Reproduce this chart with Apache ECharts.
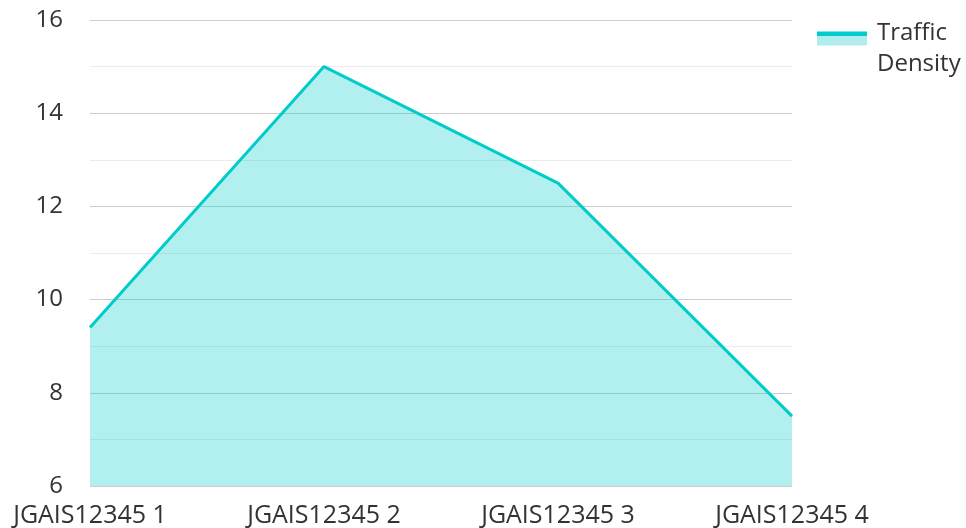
<!DOCTYPE html>
<html>
<head>
<meta charset="utf-8">
<script src="https://cdn.jsdelivr.net/npm/echarts@6/dist/echarts.min.js"></script>
<style>
  html, body { margin: 0; padding: 0; background: #fff; }
  #chart { width: 966px; height: 528px; }
</style>
</head>
<body>
<div id="chart"></div>
<script>
var categories = ['JGAIS12345 1', 'JGAIS12345 2', 'JGAIS12345 3', 'JGAIS12345 4'];
var trafficDensity = [9.4, 15, 12.5, 7.5];
var seriesName = 'Traffic Density';

var lineColor = '#00cccc';
var fontFamily = '"Open Sans", "Noto Sans", sans-serif';

// legend icon: line on top of a light fill, pinned next to the first text line
var legendIcon = 'path://M0,0H50V14H0Z M0,35L0.01,35';

var chart = echarts.init(document.getElementById('chart'));
chart.setOption({
    animation: false,
    textStyle: { fontFamily: fontFamily },
    grid: { left: 90, right: 174, top: 20, bottom: 42 },
    legend: {
        left: 812,
        top: 13,
        orient: 'vertical',
        icon: legendIcon,
        itemWidth: 50,
        itemHeight: 35,
        itemStyle: {
            borderWidth: 0,
            color: new echarts.graphic.LinearGradient(0, 0, 0, 1, [
                { offset: 0, color: lineColor },
                { offset: 0.115, color: lineColor },
                { offset: 0.115, color: '#b2eded' },
                { offset: 1, color: '#b2eded' }
            ])
        },
        textStyle: {
            fontSize: 24,
            color: '#333',
            lineHeight: 31,
            width: 95,
            overflow: 'break',
            padding: [0, 0, 0, 5]
        },
        data: [seriesName]
    },
    xAxis: {
        type: 'category',
        data: categories,
        boundaryGap: false,
        axisLine: { show: false },
        axisTick: { show: false },
        axisLabel: { fontSize: 25, color: '#333', margin: 17 }
    },
    yAxis: {
        type: 'value',
        min: 6,
        max: 16,
        interval: 2,
        axisLine: { show: false },
        axisTick: { show: false },
        axisLabel: { fontSize: 24, color: '#333', margin: 27 },
        splitLine: { lineStyle: { color: '#cccccc', width: 1 } },
        minorTick: { show: false, splitNumber: 2 },
        minorSplitLine: { show: true, lineStyle: { color: '#ebebeb', width: 1 } }
    },
    series: [{
        name: seriesName,
        type: 'line',
        data: trafficDensity,
        symbol: 'none',
        lineStyle: { color: lineColor, width: 3 },
        itemStyle: { color: lineColor },
        areaStyle: { color: lineColor, opacity: 0.3, origin: 'start' },
        z: 1
    }]
});
</script>
</body>
</html>
